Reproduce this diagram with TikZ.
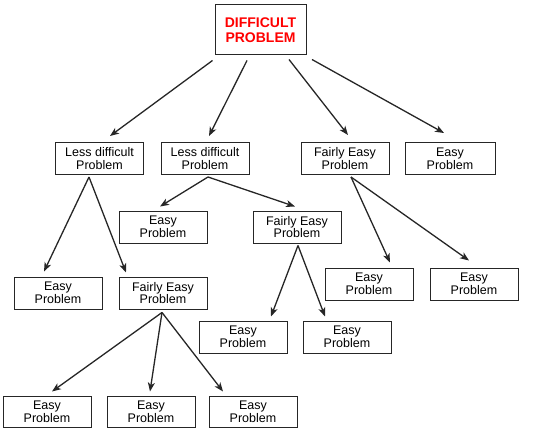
\documentclass[tikz,border=0pt]{standalone}
\usepackage{fontspec}
\setmainfont{Liberation Sans}
\usetikzlibrary{arrows.meta,calc}
\definecolor{linec}{HTML}{262626}
\definecolor{topred}{HTML}{FF0000}
\tikzset{
  box/.style={draw=linec, line width=1pt, rectangle, minimum width=88pt, minimum height=32pt, inner sep=0pt, align=center, font=\fontsize{12.5}{12.7}\selectfont, text=black},
  topbox/.style={draw=linec, line width=1pt, rectangle, minimum width=91pt, minimum height=50pt, inner sep=0pt, align=center, font=\fontsize{14}{15}\selectfont\bfseries, text=topred},
  arr/.style={draw=linec, line width=1.3pt, -{Stealth[length=9pt,width=7pt,inset=2.5pt]}}
}
\begin{document}
\begin{tikzpicture}[x=1pt,y=-1pt]
\useasboundingbox (0,0) rectangle (538,433);
\node[topbox] (top) at (260.5,30) {DIFFICULT\\PROBLEM};
\node[box] (ld1) at (99.5,158.5) {Less difficult\\Problem};
\node[box] (ld2) at (205,158.5) {Less difficult\\Problem};
\node[box] (fe1) at (345,158.5) {Fairly Easy\\Problem};
\node[box, minimum width=90pt] (e1) at (450,158.5) {Easy\\Problem};
\node[box] (e2) at (163,227) {Easy\\Problem};
\node[box] (fe2) at (297,227) {Fairly Easy\\Problem};
\node[box] (e3) at (58,293) {Easy\\Problem};
\node[box] (fe3) at (163,293) {Fairly Easy\\Problem};
\node[box] (e4) at (369,284) {Easy\\Problem};
\node[box] (e5) at (474,284) {Easy\\Problem};
\node[box] (e6) at (243,337) {Easy\\Problem};
\node[box] (e7) at (347,337) {Easy\\Problem};
\node[box, minimum height=31pt] (e8) at (47,411.5) {Easy\\Problem};
\node[box, minimum height=31pt] (e9) at (151,411.5) {Easy\\Problem};
\node[box, minimum height=31pt] (e10) at (253,411.5) {Easy\\Problem};
% apex coordinates
\coordinate (a1) at ($(ld1.south)+(-10.5,2)$);
\coordinate (a2) at ($(ld2.south)+(3,2)$);
\coordinate (a3) at ($(fe1.south)+(6,2)$);
\coordinate (a4) at ($(fe2.south)+(1,2)$);
\coordinate (a5) at ($(fe3.south)+(-1,3)$);
% top arrows
\draw[arr] ($(top.south west)+(-2,5)$) -- ($(ld1.north)+(10.5,-6)$);
\draw[arr] ($(top.south)+(-13.5,5)$) -- ($(ld2.north)+(4,-6)$);
\draw[arr] ($(top.south)+(28.5,4)$) -- ($(fe1.north)+(3,-7)$);
\draw[arr] ($(top.south)+(51.5,4)$) -- ($(e1.north)+(-6,-9)$);
% second level
\draw[arr] (a1) -- ($(e3.north)+(-14,-5)$);
\draw[arr] (a1) -- ($(fe3.north)+(-37,-4)$);
\draw[arr] (a2) -- ($(e2.north)+(-3,-4)$);
\draw[arr] (a2) -- ($(fe2.north)+(-2,-4)$);
\draw[arr] (a3) -- ($(e4.north)+(21,-5)$);
\draw[arr] (a3) -- ($(e5.north)+(-5,-7)$);
\draw[arr] (a4) -- ($(e6.north)+(28,-4)$);
\draw[arr] (a4) -- ($(e7.north)+(-22,-4)$);
\draw[arr] (a5) -- ($(e8.north)+(5,-4)$);
\draw[arr] (a5) -- ($(e9.north)+(-1,-4)$);
\draw[arr] (a5) -- ($(e10.north)+(-30,-4)$);
\end{tikzpicture}
\end{document}
